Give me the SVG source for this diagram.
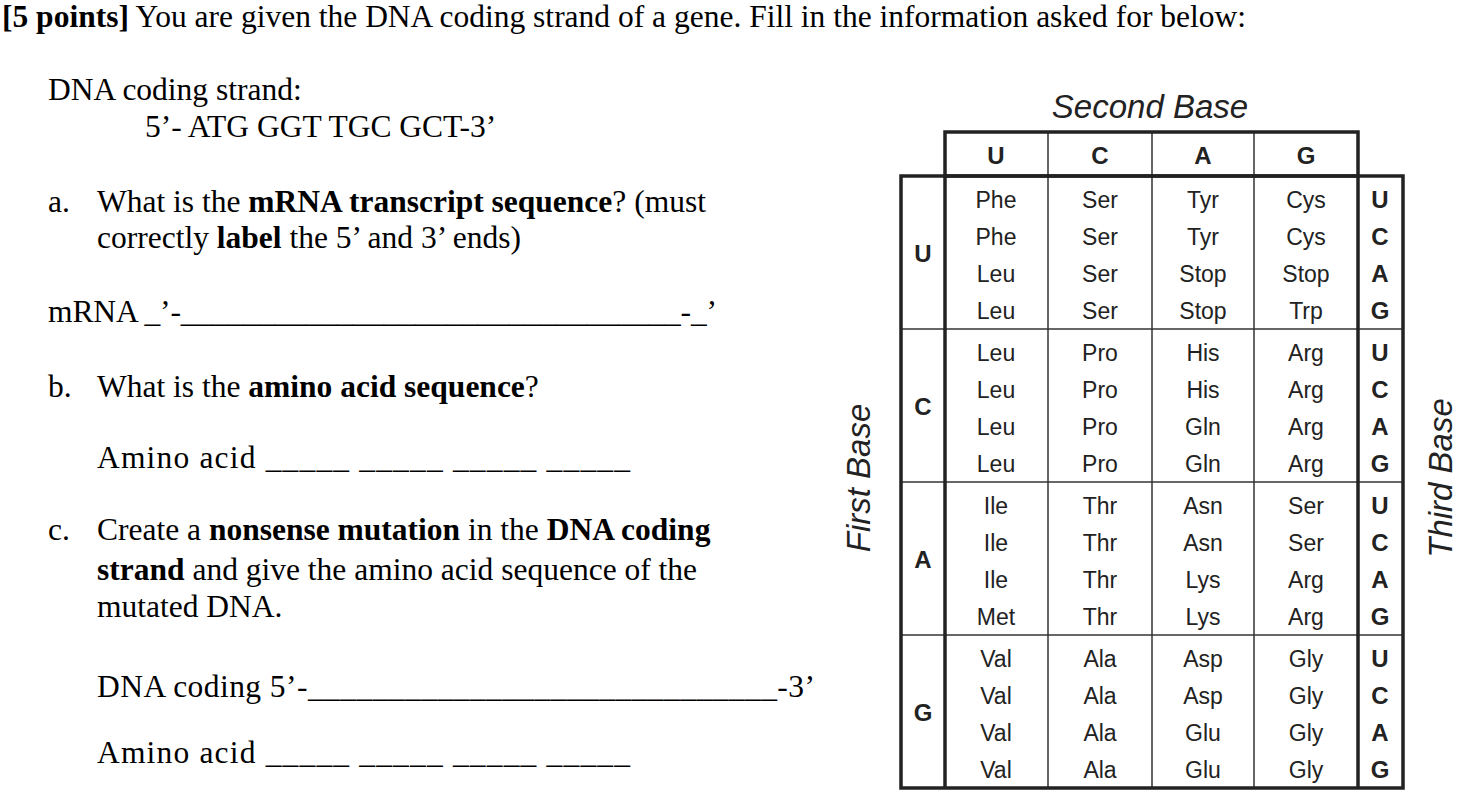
<svg xmlns="http://www.w3.org/2000/svg" width="1471" height="802" viewBox="0 0 1471 802">
<style>
.t{font-family:"Liberation Serif",serif;font-size:31.5px;fill:#000}
.b{font-weight:bold}
.s{font-family:"Liberation Sans",Arial,sans-serif;fill:#222}
.aa{font-size:23px;text-anchor:middle}
.hd{font-size:24px;font-weight:bold;text-anchor:middle}
.it{font-size:33px;font-style:italic;text-anchor:middle}
.thk{stroke:#222;stroke-width:3.5;fill:none}
.thn{stroke:#333;stroke-width:1.5;fill:none}
</style>
<rect width="1471" height="802" fill="#fff"/>
<g id="question">
<text class="t" x="2" y="27" font-size="32.5"><tspan class="b">[5 points]</tspan> You are given the DNA coding strand of a gene. Fill in the information asked for below:</text>
<text class="t" x="48" y="100">DNA coding strand:</text>
<text class="t" x="145" y="137">5’- ATG GGT TGC GCT-3’</text>
<text class="t" x="48" y="212">a.</text>
<text class="t" x="97" y="212">What is the <tspan class="b">mRNA transcript sequence</tspan>? (must</text>
<text class="t" x="97" y="248">correctly <tspan class="b">label</tspan> the 5’ and 3’ ends)</text>
<text class="t" x="48" y="322" textLength="669" lengthAdjust="spacing">mRNA _’-________________________________-_’</text>
<text class="t" x="48" y="397">b.</text>
<text class="t" x="97" y="397">What is the <tspan class="b">amino acid sequence</tspan>?</text>
<text class="t" x="97" y="468" textLength="533" lengthAdjust="spacing">Amino acid _____ _____ _____ _____</text>
<text class="t" x="48" y="540">c.</text>
<text class="t" x="97" y="540">Create a <tspan class="b">nonsense mutation</tspan> in the <tspan class="b">DNA coding</tspan></text>
<text class="t" x="97" y="580"><tspan class="b">strand</tspan> and give the amino acid sequence of the</text>
<text class="t" x="97" y="617">mutated DNA.</text>
<text class="t" x="97" y="697" textLength="718" lengthAdjust="spacing">DNA coding 5’-_____________________________-3’</text>
<text class="t" x="97" y="763" textLength="533" lengthAdjust="spacing">Amino acid _____ _____ _____ _____</text>
</g>
<g id="codon-table">
<text class="s it" x="1150" y="118">Second Base</text>
<text class="s it" transform="translate(870,478) rotate(-90)">First Base</text>
<text class="s it" transform="translate(1452,478) rotate(-90)">Third Base</text>
<line class="thn" x1="1048" y1="132" x2="1048" y2="788"/>
<line class="thn" x1="1152" y1="132" x2="1152" y2="788"/>
<line class="thn" x1="1254" y1="132" x2="1254" y2="788"/>
<line class="thn" x1="901" y1="329" x2="1403" y2="329"/>
<line class="thn" x1="901" y1="482" x2="1403" y2="482"/>
<line class="thn" x1="901" y1="635" x2="1403" y2="635"/>
<rect class="thk" x="945" y="132" width="413" height="44"/>
<rect class="thk" x="901" y="176" width="502" height="612"/>
<line class="thk" x1="945" y1="176" x2="945" y2="788"/>
<line class="thk" x1="1358" y1="176" x2="1358" y2="788"/>
<g class="s hd">
<text x="996" y="164">U</text><text x="1100" y="164">C</text><text x="1203" y="164">A</text><text x="1306" y="164">G</text>
<text x="923" y="262">U</text><text x="923" y="415">C</text><text x="923" y="568">A</text><text x="923" y="721">G</text>
<text x="1380" y="208">U</text><text x="1380" y="245">C</text><text x="1380" y="282">A</text><text x="1380" y="319">G</text>
<text x="1380" y="361">U</text><text x="1380" y="398">C</text><text x="1380" y="435">A</text><text x="1380" y="472">G</text>
<text x="1380" y="514">U</text><text x="1380" y="551">C</text><text x="1380" y="588">A</text><text x="1380" y="625">G</text>
<text x="1380" y="667">U</text><text x="1380" y="704">C</text><text x="1380" y="741">A</text><text x="1380" y="778">G</text>
</g>
<g class="s aa">
<text x="996" y="208">Phe</text><text x="1100" y="208">Ser</text><text x="1203" y="208">Tyr</text><text x="1306" y="208">Cys</text>
<text x="996" y="245">Phe</text><text x="1100" y="245">Ser</text><text x="1203" y="245">Tyr</text><text x="1306" y="245">Cys</text>
<text x="996" y="282">Leu</text><text x="1100" y="282">Ser</text><text x="1203" y="282">Stop</text><text x="1306" y="282">Stop</text>
<text x="996" y="319">Leu</text><text x="1100" y="319">Ser</text><text x="1203" y="319">Stop</text><text x="1306" y="319">Trp</text>
<text x="996" y="361">Leu</text><text x="1100" y="361">Pro</text><text x="1203" y="361">His</text><text x="1306" y="361">Arg</text>
<text x="996" y="398">Leu</text><text x="1100" y="398">Pro</text><text x="1203" y="398">His</text><text x="1306" y="398">Arg</text>
<text x="996" y="435">Leu</text><text x="1100" y="435">Pro</text><text x="1203" y="435">Gln</text><text x="1306" y="435">Arg</text>
<text x="996" y="472">Leu</text><text x="1100" y="472">Pro</text><text x="1203" y="472">Gln</text><text x="1306" y="472">Arg</text>
<text x="996" y="514">Ile</text><text x="1100" y="514">Thr</text><text x="1203" y="514">Asn</text><text x="1306" y="514">Ser</text>
<text x="996" y="551">Ile</text><text x="1100" y="551">Thr</text><text x="1203" y="551">Asn</text><text x="1306" y="551">Ser</text>
<text x="996" y="588">Ile</text><text x="1100" y="588">Thr</text><text x="1203" y="588">Lys</text><text x="1306" y="588">Arg</text>
<text x="996" y="625">Met</text><text x="1100" y="625">Thr</text><text x="1203" y="625">Lys</text><text x="1306" y="625">Arg</text>
<text x="996" y="667">Val</text><text x="1100" y="667">Ala</text><text x="1203" y="667">Asp</text><text x="1306" y="667">Gly</text>
<text x="996" y="704">Val</text><text x="1100" y="704">Ala</text><text x="1203" y="704">Asp</text><text x="1306" y="704">Gly</text>
<text x="996" y="741">Val</text><text x="1100" y="741">Ala</text><text x="1203" y="741">Glu</text><text x="1306" y="741">Gly</text>
<text x="996" y="778">Val</text><text x="1100" y="778">Ala</text><text x="1203" y="778">Glu</text><text x="1306" y="778">Gly</text>
</g>
</g>
<g id="connectors"/>
</svg>
